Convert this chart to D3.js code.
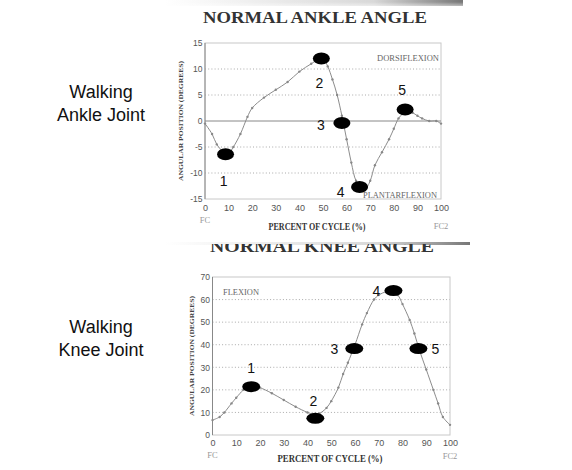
<!DOCTYPE html>
<html>
<head>
<meta charset="utf-8">
<script src="https://cdn.jsdelivr.net/npm/d3@7"></script>
<style>
  body { margin: 0; background: #fff; }
  svg { display: block; }
</style>
</head>
<body>
<script>
// ankle angle through the gait cycle (percent, degrees)
var ankleX = [0, 3, 5, 8, 10, 12, 15, 18, 20, 25, 30, 35, 40, 45, 48, 50, 52, 54, 56, 58, 60, 62, 64, 66, 68, 70, 72, 75, 78, 80, 82, 84, 86, 88, 90, 92, 95, 98, 100];
var ankleY = [-0.5, -2.5, -4.5, -6, -6.2, -5, -2.5, 0.8, 2.5, 4.5, 6, 7.5, 9.5, 11, 11.8, 12, 10.5, 8, 5, 1, -3.5, -8, -11.5, -12.6, -13, -11.5, -8.5, -6, -3.5, -1.5, 0.5, 1.5, 2, 1.6, 1, 0.5, 0, 0, -0.5];
var ankleKeyX = [8.7, 49.3, 58, 65.5, 84.8];
var ankleKeyY = [-6.4, 12, -0.4, -12.7, 2.2];
var ankleTicksY = [-15, -10, -5, 0, 5, 10, 15];

// knee angle through the gait cycle
var kneeX = [0, 3, 5, 8, 10, 13, 15, 17, 20, 25, 30, 35, 40, 43, 45, 48, 50, 53, 55, 57, 60, 63, 65, 68, 70, 73, 75, 78, 80, 83, 85, 87, 90, 93, 95, 97, 100];
var kneeY = [6.6, 8, 10, 14, 16.5, 20, 21.5, 22, 21, 18.5, 15.5, 12.5, 10, 9, 9.5, 12, 15, 21, 27, 32, 40, 49, 54, 60, 62, 63.5, 64, 62, 58, 51, 45, 38, 29, 20, 14, 8, 4.5];
var kneeKeyX = [16.3, 43.3, 59.7, 76.2, 86.7];
var kneeKeyY = [21.4, 7.4, 38.3, 64, 38.3];
var kneeTicksY = [0, 10, 20, 30, 40, 50, 60, 70];

var ticksX = [0, 10, 20, 30, 40, 50, 60, 70, 80, 90, 100];
var keyNames = ["1", "2", "3", "4", "5"];

var serif = "'Liberation Serif', 'DejaVu Serif', serif";
var sans = "'Liberation Sans', Arial, sans-serif";

var svg = d3.select("body").append("svg").attr("width", 572).attr("height", 470);

var defs = svg.append("defs");
var shade = defs.append("linearGradient").attr("id", "shade");
shade.append("stop").attr("offset", "0%").attr("stop-color", "#fff");
shade.append("stop").attr("offset", "70%").attr("stop-color", "#d8d8d8");
shade.append("stop").attr("offset", "100%").attr("stop-color", "#777");
var shadeV = defs.append("linearGradient").attr("id", "shadeV").attr("x1", 0).attr("x2", 0).attr("y1", 0).attr("y2", 1);
shadeV.append("stop").attr("offset", "0%").attr("stop-color", "#fff").attr("stop-opacity", 0);
shadeV.append("stop").attr("offset", "100%").attr("stop-color", "#fff").attr("stop-opacity", 1);

defs.append("clipPath").attr("id", "kneeTitleClip")
  .append("rect").attr("x", 0).attr("y", 244).attr("width", 572).attr("height", 30);

// scan shadows at the top of each page
svg.append("rect").attr("x", 165).attr("y", 0).attr("width", 298).attr("height", 6).attr("fill", "url(#shade)");
svg.append("rect").attr("x", 165).attr("y", 2).attr("width", 298).attr("height", 8).attr("fill", "url(#shadeV)");
svg.append("rect").attr("x", 165).attr("y", 242).attr("width", 305).attr("height", 3).attr("fill", "url(#shade)");

var tickFmt = function (d) { return String(d); };

function drawChart(o) {
  var x = d3.scaleLinear().domain([0, 100]).range([o.left, o.right]);
  var y = d3.scaleLinear().domain(o.domain).range([o.bottom, o.top]);
  var g = svg.append("g");

  // dotted grid
  g.selectAll("line.grid")
    .data(o.ticksY.filter(function (d) { return d !== o.domain[0] && d !== o.domain[1] && d !== o.solid; }))
    .enter().append("line")
    .attr("class", "grid")
    .attr("x1", x(0)).attr("x2", x(100))
    .attr("y1", function (d) { return y(d); })
    .attr("y2", function (d) { return y(d); })
    .attr("stroke", "#aaa")
    .attr("stroke-width", 1)
    .attr("stroke-dasharray", "1,2.2");

  // frame
  g.append("rect")
    .attr("x", x(0)).attr("y", y(o.domain[1]))
    .attr("width", x(100) - x(0)).attr("height", y(o.domain[0]) - y(o.domain[1]))
    .attr("fill", "none").attr("stroke", "#c8c8c8").attr("stroke-width", 1);
  g.append("line")
    .attr("x1", x(0)).attr("x2", x(0))
    .attr("y1", y(o.domain[0])).attr("y2", y(o.domain[1]))
    .attr("stroke", "#888");
  if (o.solid !== undefined) {
    g.append("line")
      .attr("x1", x(0)).attr("x2", x(100))
      .attr("y1", y(o.solid)).attr("y2", y(o.solid))
      .attr("stroke", "#888");
  }

  // axes (labels only)
  var ay = d3.axisLeft(y).tickValues(o.ticksY).tickFormat(tickFmt).tickSize(0).tickPadding(2.5);
  g.append("g").attr("transform", "translate(" + x(0) + ",0)").call(ay)
    .call(function (s) { s.select(".domain").remove(); })
    .selectAll("text").attr("font-family", sans).attr("font-size", 8.5).attr("fill", "#555");
  var ax = d3.axisBottom(x).tickValues(ticksX).tickSize(0).tickPadding(o.xPad);
  g.append("g").attr("transform", "translate(0," + y(o.domain[0]) + ")").call(ax)
    .call(function (s) { s.select(".domain").remove(); })
    .selectAll("text").attr("font-family", sans).attr("font-size", 9).attr("fill", "#555");

  // curve
  var pts = o.xs.map(function (d, i) { return [d, o.ys[i]]; });
  var line = d3.line().x(function (d) { return x(d[0]); }).y(function (d) { return y(d[1]); })
    .curve(d3.curveCatmullRom);
  g.append("path").datum(pts).attr("d", line)
    .attr("fill", "none").attr("stroke", "#8c8c8c").attr("stroke-width", 1);
  g.selectAll("circle.pt").data(pts).enter().append("circle")
    .attr("class", "pt")
    .attr("cx", function (d) { return x(d[0]); })
    .attr("cy", function (d) { return y(d[1]); })
    .attr("r", 1.2).attr("fill", "#888");

  // key events
  var keys = o.keyX.map(function (d, i) { return [d, o.keyY[i]]; });
  g.selectAll("ellipse").data(keys).enter().append("ellipse")
    .attr("cx", function (d) { return x(d[0]); })
    .attr("cy", function (d) { return y(d[1]); })
    .attr("rx", o.rx).attr("ry", o.ry).attr("fill", "#000");
  g.selectAll("text.key").data(keys).enter().append("text")
    .attr("class", "key")
    .attr("x", function (d, i) { return x(d[0]) + o.labelOff[i][0]; })
    .attr("y", function (d, i) { return y(d[1]) + o.labelOff[i][1]; })
    .attr("text-anchor", "middle")
    .attr("font-family", sans).attr("font-size", 14).attr("fill", "#111")
    .text(function (d, i) { return keyNames[i]; });

  // texts
  var title = g.append("text")
    .attr("x", o.titleX).attr("y", o.titleY)
    .attr("text-anchor", "middle")
    .attr("font-family", serif).attr("font-weight", "bold").attr("font-size", 17.5)
    .attr("fill", "#333").attr("textLength", 224).attr("lengthAdjust", "spacingAndGlyphs")
    .text(o.title);
  if (o.clip) title.attr("clip-path", "url(#" + o.clip + ")");

  g.append("text")
    .attr("transform", "translate(" + o.yLabelX + "," + (y(o.domain[0]) + y(o.domain[1])) / 2 + ") rotate(-90)")
    .attr("text-anchor", "middle")
    .attr("font-family", serif).attr("font-weight", "bold").attr("font-size", 7)
    .attr("fill", "#444").attr("textLength", 120).attr("lengthAdjust", "spacingAndGlyphs")
    .text("ANGULAR POSITION (DEGREES)");
  g.append("text")
    .attr("x", o.xLabelX).attr("y", y(o.domain[0]) + o.xLabelDy)
    .attr("text-anchor", "middle")
    .attr("font-family", serif).attr("font-weight", "bold").attr("font-size", 9.5)
    .attr("fill", "#333").attr("textLength", o.xLabelW).attr("lengthAdjust", "spacingAndGlyphs")
    .text("PERCENT OF CYCLE (%)");
  g.append("text").attr("x", x(0)).attr("y", y(o.domain[0]) + o.fcDy)
    .attr("text-anchor", "middle").attr("font-family", serif).attr("font-size", 8.5).attr("fill", "#999")
    .text("FC");
  g.append("text").attr("x", x(100)).attr("y", y(o.domain[0]) + o.fc2Dy)
    .attr("text-anchor", "middle").attr("font-family", serif).attr("font-size", 8.5).attr("fill", "#999")
    .text("FC2");

  o.notes.forEach(function (n) {
    g.append("text").attr("x", n.x).attr("y", n.y)
      .attr("text-anchor", n.anchor)
      .attr("font-family", serif).attr("font-size", 7.5).attr("fill", "#666")
      .attr("textLength", n.w).attr("lengthAdjust", "spacingAndGlyphs")
      .text(n.text);
  });

  // side caption
  var cap = svg.append("text").attr("text-anchor", "middle")
    .attr("font-family", sans).attr("font-size", 18).attr("fill", "#111");
  cap.append("tspan").attr("x", 101).attr("y", o.capY).text("Walking");
  cap.append("tspan").attr("x", 101).attr("y", o.capY + 23).text(o.caption);
}

drawChart({
  left: 205, right: 441, top: 43, bottom: 199,
  domain: [-15, 15], ticksY: ankleTicksY, solid: 0,
  xs: ankleX, ys: ankleY, keyX: ankleKeyX, keyY: ankleKeyY,
  rx: 8.5, ry: 6, xPad: 5.5,
  labelOff: [[-2, 32], [-2, 29], [-21, 7], [-19, 10], [-3, -15]],
  title: "NORMAL ANKLE ANGLE", titleX: 315, titleY: 23,
  yLabelX: 183, xLabelX: 317, xLabelW: 97, xLabelDy: 31, fcDy: 24, fc2Dy: 30,
  notes: [
    { text: "DORSIFLEXION", x: 439, y: 61, anchor: "end", w: 62 },
    { text: "PLANTARFLEXION", x: 437, y: 197.5, anchor: "end", w: 74 }
  ],
  caption: "Ankle Joint", capY: 98
});

drawChart({
  left: 212.5, right: 450, top: 277, bottom: 435,
  domain: [0, 70], ticksY: kneeTicksY,
  xs: kneeX, ys: kneeY, keyX: kneeKeyX, keyY: kneeKeyY,
  rx: 9, ry: 5.5, xPad: 4.5,
  labelOff: [[0, -14], [-2, -12], [-20, 5], [-17, 5], [17, 5]],
  title: "NORMAL KNEE ANGLE", titleX: 322, titleY: 252, clip: "kneeTitleClip",
  yLabelX: 194, xLabelX: 330, xLabelW: 105, xLabelDy: 27, fcDy: 23, fc2Dy: 23.5,
  notes: [
    { text: "FLEXION", x: 223, y: 295, anchor: "start", w: 36 }
  ],
  caption: "Knee Joint", capY: 333
});
</script>
</body>
</html>
